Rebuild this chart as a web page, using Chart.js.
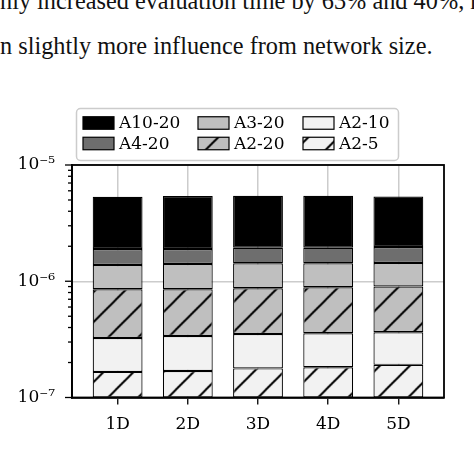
<!DOCTYPE html>
<html>
<head>
<meta charset="utf-8">
<script src="https://cdn.jsdelivr.net/npm/chart.js@4/dist/chart.umd.min.js"></script>
<style>
  html, body { margin: 0; padding: 0; background: #fff; }
  #wrap { position: relative; width: 474px; height: 474px; overflow: hidden; }
  .linea { position: absolute; left: 0; white-space: nowrap; font-family: 'Liberation Serif', serif;
           font-size: 24.3px; line-height: 24px; color: #111; }
  #grafica { position: absolute; left: 0; top: 0; }
</style>
</head>
<body>
<div id="wrap">
  <div class="linea" style="top:-11px">nly increased evaluation time by 63% and 40%, r</div>
  <div class="linea" style="top:34px">n slightly more influence from network size.</div>
  <canvas id="grafica" width="474" height="474"></canvas>
</div>
<script>
// --------------------- DATOS ---------------------
const categorias = ['1D', '2D', '3D', '4D', '5D'];
// segmentos apilados de abajo hacia arriba
const a2_5   = [1.66e-7, 1.69e-7, 1.78e-7, 1.82e-7, 1.91e-7];
const a2_10  = [1.59e-7, 1.69e-7, 1.74e-7, 1.75e-7, 1.73e-7];
const a2_20  = [5.28e-7, 5.15e-7, 5.18e-7, 5.30e-7, 5.37e-7];
const a3_20  = [5.26e-7, 5.54e-7, 5.57e-7, 5.40e-7, 5.34e-7];
const a4_20  = [5.15e-7, 4.87e-7, 5.17e-7, 5.17e-7, 5.36e-7];
const a10_20 = [3.44e-6, 3.52e-6, 3.50e-6, 3.50e-6, 3.39e-6];
const decadas = [1e-7, 1e-6, 1e-5];
// orden de la leyenda (filas)
const ordenLeyenda = [['A10-20', 'A3-20', 'A2-10'], ['A4-20', 'A2-20', 'A2-5']];

const canvas = document.getElementById('grafica');
const ctx = canvas.getContext('2d');

// --------------------- PATRON RAYADO ---------------------
function rayado(fondo) {
  const T = 30;
  const t = document.createElement('canvas');
  t.width = T; t.height = T;
  const c = t.getContext('2d');
  c.fillStyle = fondo;
  c.fillRect(0, 0, T, T);
  c.strokeStyle = '#000';
  c.lineWidth = 2;
  c.beginPath();
  c.moveTo(-2, T + 2); c.lineTo(T + 2, -2);
  c.moveTo(-4, 4); c.lineTo(4, -4);
  c.moveTo(T - 4, T + 4); c.lineTo(T + 4, T - 4);
  c.stroke();
  const p = ctx.createPattern(t, 'repeat');
  // desfase para que las lineas caigan donde en la figura original
  p.setTransform(new DOMMatrix().translate(25.5, 0));
  return p;
}

const series = [
  { label: 'A2-5',   valores: a2_5,   fondo: rayado('#f2f2f2') },
  { label: 'A2-10',  valores: a2_10,  fondo: '#f2f2f2' },
  { label: 'A2-20',  valores: a2_20,  fondo: rayado('#bfbfbf') },
  { label: 'A3-20',  valores: a3_20,  fondo: '#bfbfbf' },
  { label: 'A4-20',  valores: a4_20,  fondo: '#6e6e6e' },
  { label: 'A10-20', valores: a10_20, fondo: '#000000' }
];

function esDecada(v) {
  const e = Math.log10(v);
  return Math.abs(e - Math.round(e)) < 1e-6;
}
function superindice(n) {
  const m = { '-': '\u207B', '0': '\u2070', '1': '\u00B9', '2': '\u00B2', '3': '\u00B3', '4': '\u2074',
              '5': '\u2075', '6': '\u2076', '7': '\u2077', '8': '\u2078', '9': '\u2079' };
  return String(n).split('').map(ch => m[ch]).join('');
}

// --------------------- MARCO, TICKS MENORES Y LEYENDA ---------------------
const extras = {
  id: 'extras',
  afterDraw(chart) {
    const { ctx, chartArea: a, scales } = chart;
    ctx.save();
    // ticks del eje y (mayores largos, menores cortos)
    ctx.strokeStyle = '#000';
    ctx.lineWidth = 1.3;
    scales.y.ticks.forEach(t => {
      const y = scales.y.getPixelForValue(t.value);
      const largo = esDecada(t.value) ? 7 : 4;
      ctx.beginPath();
      ctx.moveTo(a.left - largo, y);
      ctx.lineTo(a.left, y);
      ctx.stroke();
    });
    // marco completo
    ctx.lineWidth = 1.8;
    ctx.strokeRect(a.left, a.top, a.right - a.left, a.bottom - a.top);

    // leyenda
    ctx.beginPath();
    ctx.roundRect(76.5, 108.5, 322, 52, 4);
    ctx.fillStyle = '#fff';
    ctx.fill();
    ctx.strokeStyle = '#cccccc';
    ctx.lineWidth = 1.5;
    ctx.stroke();
    const colX = [83, 198, 303];
    const filaY = [123, 143.5];
    ctx.font = '17px "DejaVu Serif"';
    ctx.textBaseline = 'middle';
    ordenLeyenda.forEach((fila, r) => {
      fila.forEach((nombre, c) => {
        const ds = chart.data.datasets.find(d => d.label === nombre);
        ctx.fillStyle = ds.backgroundColor;
        ctx.fillRect(colX[c], filaY[r] - 6.25, 31, 12.5);
        ctx.strokeStyle = '#000';
        ctx.lineWidth = 1.2;
        ctx.strokeRect(colX[c], filaY[r] - 6.25, 31, 12.5);
        ctx.fillStyle = '#000';
        ctx.fillText(nombre, colX[c] + 36, filaY[r] + 1);
      });
    });
    ctx.restore();
  }
};

// --------------------- GRAFICA ---------------------
new Chart(ctx, {
  type: 'bar',
  data: {
    datasets: series.map(s => ({
      label: s.label,
      data: s.valores.map((v, i) => ({ x: i, y: v })),
      backgroundColor: s.fondo,
      borderColor: '#000',
      borderWidth: 1.2,
      borderSkipped: false,
      barPercentage: 0.71,
      categoryPercentage: 1
    }))
  },
  options: {
    responsive: false,
    animation: false,
    layout: { padding: { top: 165, right: 30, left: 0, bottom: 0 } },
    plugins: { legend: { display: false }, tooltip: { enabled: false } },
    scales: {
      x: {
        type: 'linear',
        stacked: true,
        offset: false,
        min: -0.65,
        max: 4.65,
        afterBuildTicks: (scale) => { scale.ticks = categorias.map((c, i) => ({ value: i })); },
        afterFit: (scale) => { scale.height = 76.5; },
        grid: { offset: false, color: '#cccccc', lineWidth: 1.5, tickColor: '#000', tickLength: 7, tickWidth: 1.3 },
        border: { color: '#000', width: 1.8 },
        ticks: {
          callback: (v) => categorias[v] ?? '',
          font: { family: 'DejaVu Serif', size: 17 },
          color: '#000',
          padding: 10,
          maxRotation: 0
        }
      },
      y: {
        type: 'logarithmic',
        stacked: true,
        min: 1e-7,
        max: 1e-5,
        afterBuildTicks: (scale) => {
          const t = [];
          for (let d = 0; d < decadas.length - 1; d++) {
            for (let k = 1; k <= 9; k++) t.push({ value: k * decadas[d] });
          }
          t.push({ value: decadas[decadas.length - 1] });
          scale.ticks = t;
        },
        afterFit: (scale) => { scale.width = 72; },
        grid: {
          color: (c) => (c.tick && esDecada(c.tick.value) ? '#cccccc' : 'rgba(0,0,0,0)'),
          lineWidth: 1.5,
          drawTicks: false
        },
        border: { color: '#000', width: 1.8 },
        ticks: {
          autoSkip: false,
          callback: (v) => (esDecada(v) ? '10' + superindice(Math.round(Math.log10(v))) : ''),
          font: { family: 'DejaVu Serif', size: 17 },
          color: '#000',
          padding: 17
        }
      }
    }
  },
  plugins: [extras]
});
</script>
</body>
</html>
